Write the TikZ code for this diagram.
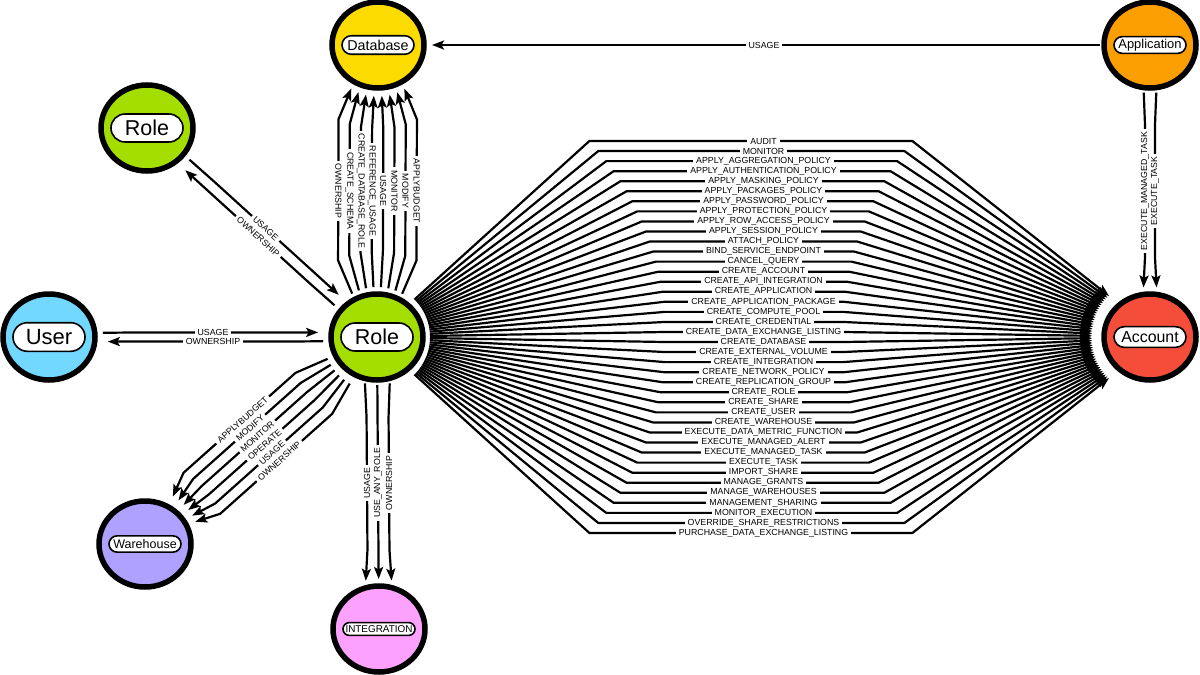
\documentclass[tikz,border=0pt]{standalone}
\usepackage{fontspec}
\setmainfont{Liberation Sans}
\usetikzlibrary{calc,arrows.meta,shapes.geometric,shapes.misc}

\definecolor{rolegreen}{RGB}{164,221,0}
\definecolor{dbyellow}{RGB}{252,220,0}
\definecolor{apporange}{RGB}{251,158,0}
\definecolor{userblue}{RGB}{115,216,255}
\definecolor{acctred}{RGB}{244,78,59}
\definecolor{whpurple}{RGB}{174,161,255}
\definecolor{intpink}{RGB}{253,161,255}

\tikzset{entity/.style={ellipse,draw,line width=5.5pt,minimum width=92pt,minimum height=86pt,inner sep=0pt},
         pill/.style={rounded rectangle,draw,fill=white,line width=1.6pt,minimum width=78pt,minimum height={1.3*#1pt},inner xsep=3pt,inner ysep=0pt,font=\fontsize{#1}{#1}\selectfont},
         grantline/.style={line width=2.2pt,-{Stealth[length=12pt,width=9pt,inset=2.5pt]}},
         grantlabel/.style={fill=white,inner xsep=3pt,inner ysep=0.6pt,font=\fontsize{8.8}{9}\selectfont}}

% one privilege: from, to, side offset, text (group values in \rA \rB \kA \kB \Rone \Rtwo \lrot)
\newcommand{\privedge}[4]{%
  \pgfmathsetmacro\sang{-\kA*(#3)}%
  \pgfmathsetmacro\tang{\kB*(#3)}%
  \pgfmathsetmacro\tone{100*sqrt((\Rone/100)^2-((#3)/100)^2)}%
  \pgfmathsetmacro\ttwo{100*sqrt((\Rtwo/100)^2-((#3)/100)^2)}%
  \draw[grantline] ($(#1)!\rA pt!\sang:(#2)$) -- ($(#1)!\tone pt!(#2)!#3pt!-90:(#2)$)
    -- ($(#2)!\ttwo pt!(#1)!#3pt!90:(#1)$) -- ($(#2)!\rB pt!\tang:(#1)$);
  \node[grantlabel,rotate=\lrot] at ($(#1)!0.5!(#2)!#3pt!-90:(#2)$) {#4};
}

\begin{document}
\begin{tikzpicture}[x=1pt,y=-1pt]
  \useasboundingbox (0,0) rectangle (1200,675);
  \node[entity,fill=dbyellow,label={[pill=14.3]center:Database}] (database) at (378,45) {};
  \node[entity,fill=apporange,label={[pill=12.9]center:Application}] (application) at (1150,45) {};
  \node[entity,fill=rolegreen,label={[pill=21.5]center:Role}] (subrole) at (147,128) {};
  \node[entity,fill=userblue,label={[pill=22]center:User}] (user) at (49,337) {};
  \node[entity,fill=rolegreen,label={[pill=21.5]center:Role}] (role) at (377,337) {};
  \node[entity,fill=acctred,label={[pill=15.9]center:Account}] (account) at (1150,337) {};
  \node[entity,fill=whpurple,label={[pill=12.5]center:Warehouse}] (warehouse) at (145,544) {};
  \node[entity,fill=intpink,label={[pill=9.9]center:INTEGRATION}] (integration) at (379,629) {};

  % role -> account
  \def\rA{53}\def\rB{58}\def\kA{0.2296}\def\kB{0.2296}\def\Rone{289}\def\Rtwo{308}\def\lrot{0}
  \foreach \lab [count=\i] in {AUDIT, MONITOR, APPLY\_AGGREGATION\_POLICY, APPLY\_AUTHENTICATION\_POLICY,
      APPLY\_MASKING\_POLICY, APPLY\_PACKAGES\_POLICY, APPLY\_PASSWORD\_POLICY, APPLY\_PROTECTION\_POLICY,
      APPLY\_ROW\_ACCESS\_POLICY, APPLY\_SESSION\_POLICY, ATTACH\_POLICY, BIND\_SERVICE\_ENDPOINT,
      CANCEL\_QUERY, CREATE\_ACCOUNT, CREATE\_API\_INTEGRATION, CREATE\_APPLICATION,
      CREATE\_APPLICATION\_PACKAGE, CREATE\_COMPUTE\_POOL, CREATE\_CREDENTIAL, CREATE\_DATA\_EXCHANGE\_LISTING,
      CREATE\_DATABASE, CREATE\_EXTERNAL\_VOLUME, CREATE\_INTEGRATION, CREATE\_NETWORK\_POLICY,
      CREATE\_REPLICATION\_GROUP, CREATE\_ROLE, CREATE\_SHARE, CREATE\_USER, CREATE\_WAREHOUSE,
      EXECUTE\_DATA\_METRIC\_FUNCTION, EXECUTE\_MANAGED\_ALERT, EXECUTE\_MANAGED\_TASK, EXECUTE\_TASK,
      IMPORT\_SHARE, MANAGE\_GRANTS, MANAGE\_WAREHOUSES, MANAGEMENT\_SHARING, MONITOR\_EXECUTION,
      OVERRIDE\_SHARE\_RESTRICTIONS, PURCHASE\_DATA\_EXCHANGE\_LISTING}{
    \pgfmathsetmacro\off{(\i-20.5)*10.05}
    \privedge{role}{account}{\off}{\lab}
  }

  % role -> database
  \def\rA{50}\def\rB{51}\def\kA{0.765}\def\kB{0.8}\def\Rone{86}\def\Rtwo{84}\def\lrot{-90}
  \foreach \lab [count=\j] in {OWNERSHIP, CREATE\_SCHEMA, CREATE\_DATABASE\_ROLE, REFERENCE\_USAGE,
      USAGE, MONITOR, MODIFY, APPLYBUDGET}{
    \pgfmathsetmacro\off{(\j-4.5)*11.2}
    \privedge{role}{database}{\off}{\lab}
  }

  % role -> warehouse
  \def\rA{54}\def\rB{55}\def\kA{0.65}\def\kB{0.65}\def\Rone{89}\def\Rtwo{81}\def\lrot{41.7}
  \foreach \lab [count=\j] in {APPLYBUDGET, MODIFY, MONITOR, OPERATE, USAGE, OWNERSHIP}{
    \pgfmathsetmacro\off{(3.5-\j)*11}
    \privedge{role}{warehouse}{\off}{\lab}
  }

  % role -> integration
  \def\rA{48}\def\rB{50}\def\kA{1.36}\def\kB{1.36}\def\Rone{81}\def\Rtwo{80}\def\lrot{90}
  \foreach \lab [count=\j] in {USAGE, USE\_ANY\_ROLE, OWNERSHIP}{
    \pgfmathsetmacro\off{(2-\j)*11}
    \privedge{role}{integration}{\off}{\lab}
  }

  % application -> account, application -> database
  \def\rA{48}\def\rB{50}\def\kA{1.5}\def\kB{1.5}\def\Rone{80}\def\Rtwo{80}\def\lrot{90}
  \foreach \lab [count=\j] in {EXECUTE\_MANAGED\_TASK, EXECUTE\_TASK}{
    \pgfmathsetmacro\off{(1.5-\j)*10}
    \privedge{application}{account}{\off}{\lab}
  }
  \def\rA{50}\def\rB{54}\def\kA{0}\def\kB{0}\def\lrot{0}
  \privedge{application}{database}{0}{USAGE}

  % user and the other role
  \def\rA{54}\def\rB{59}\def\kA{1}\def\kB{1}\def\Rone{85}\def\Rtwo{85}\def\lrot{0}
  \foreach \src/\dst/\lab in {user/role/USAGE, role/user/OWNERSHIP}
    \privedge{\src}{\dst}{-4.5}{\lab};
  \def\rA{53}\def\rB{57}\def\lrot{-42.4}
  \foreach \src/\dst/\lab in {subrole/role/USAGE, role/subrole/OWNERSHIP}
    \privedge{\src}{\dst}{-5.5}{\lab};
\end{tikzpicture}
\end{document}
